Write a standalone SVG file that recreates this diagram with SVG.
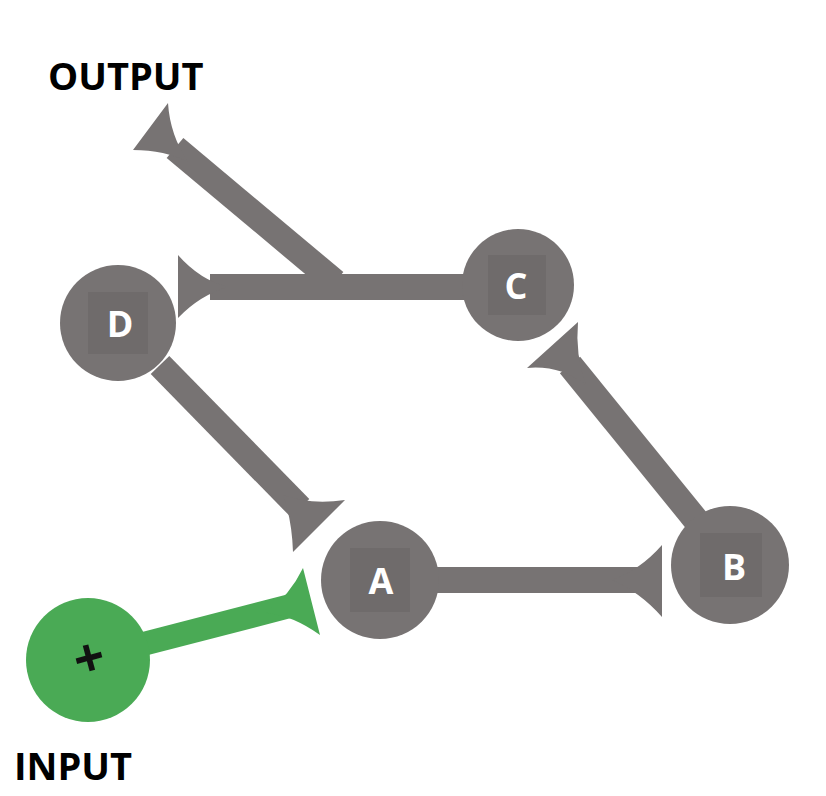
<svg xmlns="http://www.w3.org/2000/svg" width="826" height="796" viewBox="0 0 826 796">
<style>
.ln{stroke:#777373;stroke-width:26;fill:none}
.ah{fill:#777373}
.nd{fill:#777373}
.sq{fill:#6f6b6b}
.lb{font-family:"Open Sans","Liberation Sans",sans-serif;font-weight:bold;fill:#fff;font-size:36px;text-anchor:middle}
.tt{font-family:"Open Sans","Liberation Sans",sans-serif;font-weight:bold;fill:#000;font-size:38px}
</style>
<rect width="826" height="796" fill="#fff"/>
<g id="connectors">
<line class="ln" x1="335" y1="282" x2="175" y2="148"/>
<path class="ah" d="M168,103 L133,150 Q165,150 188,162 Q170,135 168,103Z"/>
<line class="ln" x1="470" y1="287" x2="210" y2="287"/>
<path class="ah" d="M178,255 L178,318 Q200,295 228,287 Q200,280 178,255Z"/>
<line class="ln" x1="160" y1="365" x2="300" y2="508"/>
<path class="ah" d="M345,500 L293,552 Q292,520 283,495 Q310,505 345,500Z"/>
<line class="ln" x1="420" y1="580" x2="640" y2="580"/>
<path class="ah" d="M662,545 L662,617 Q640,592 612,580 Q640,570 662,545Z"/>
<line class="ln" x1="700" y1="525" x2="570" y2="365"/>
<path class="ah" d="M578,322 L527,368 Q560,365 586,385 Q575,355 578,322Z"/>
<line x1="120" y1="650" x2="290" y2="606" stroke="#4aaa55" stroke-width="24"/>
<path fill="#4aaa55" d="M303,568 L320,635 Q292,615 266,613 Q290,595 303,568Z"/>
</g>
<g id="C"><circle class="nd" cx="518" cy="285" r="56"/><rect class="sq" x="488" y="255" width="58" height="60"/><text class="lb" x="516" y="299">C</text></g>
<g id="D"><circle class="nd" cx="118" cy="323" r="58"/><rect class="sq" x="88" y="292" width="60" height="62"/><text class="lb" x="120" y="337">D</text></g>
<g id="A"><circle class="nd" cx="380" cy="580" r="59"/><rect class="sq" x="350" y="548" width="60" height="64"/><text class="lb" x="381" y="594">A</text></g>
<g id="B"><circle class="nd" cx="730" cy="565" r="59"/><rect class="sq" x="700" y="533" width="62" height="64"/><text class="lb" x="734" y="580">B</text></g>
<g id="input-node"><circle cx="88" cy="660" r="62" fill="#4aaa55"/><text x="90" y="675" font-family="Liberation Sans,sans-serif" font-weight="bold" font-size="52" text-anchor="middle" fill="#111" transform="rotate(-15 90 662)">+</text></g>
<text class="tt" x="48" y="90">OUTPUT</text>
<text class="tt" x="14" y="780">INPUT</text>
</svg>
